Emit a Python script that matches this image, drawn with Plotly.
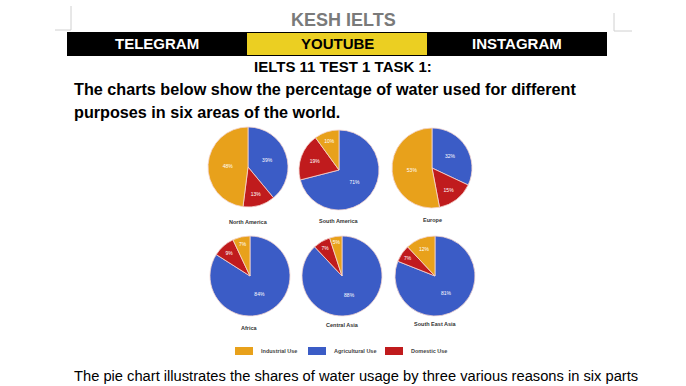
import plotly.graph_objects as go

W, H = 686, 386

regions = ["North America", "South America", "Europe", "Africa", "Central Asia", "South East Asia"]
categories = ["Agricultural Use", "Domestic Use", "Industrial Use"]
agricultural = [39, 71, 32, 84, 88, 81]
domestic = [13, 19, 15, 9, 7, 7]
industrial = [48, 10, 53, 7, 5, 12]
legend_order = ["Industrial Use", "Agricultural Use", "Domestic Use"]

colors = {"Agricultural Use": "#3B5CC6", "Domestic Use": "#C01B1D", "Industrial Use": "#E8A11B"}

# pie centres (px) and radius
centres = [(248, 167), (339, 170), (432, 168), (250, 276), (342, 276), (435, 276)]
label_y = [222, 221, 220, 328, 325, 324]
R = 40

def px(x):
    return x / W

def py(y):
    return 1 - y / H

fig = go.Figure()
for i, reg in enumerate(regions):
    cx, cy = centres[i]
    vals = [agricultural[i], domestic[i], industrial[i]]
    fig.add_trace(go.Pie(
        labels=categories, values=vals, sort=False, direction="clockwise", rotation=0,
        domain=dict(x=[px(cx - R), px(cx + R)], y=[py(cy + R), py(cy - R)]),
        marker=dict(colors=[colors[c] for c in categories], line=dict(color="#F4D6D0", width=0.8)),
        texttemplate="%{value}%", textposition="inside", insidetextorientation="horizontal",
        textfont=dict(size=5, color="white", family="Liberation Sans, Arial"),
        showlegend=False, hoverinfo="label+value", name=reg,
    ))

shapes = []
annotations = []
font = "Liberation Sans, Arial, sans-serif"

# page corner marks
shapes.append(dict(type="line", xref="paper", yref="paper", x0=px(71), x1=px(71), y0=py(6), y1=py(30), line=dict(color="#d0d0d0", width=1)))
shapes.append(dict(type="line", xref="paper", yref="paper", x0=px(55), x1=px(71), y0=py(30), y1=py(30), line=dict(color="#d0d0d0", width=1)))
shapes.append(dict(type="line", xref="paper", yref="paper", x0=px(614), x1=px(614), y0=py(13), y1=py(31), line=dict(color="#d0d0d0", width=1)))
shapes.append(dict(type="line", xref="paper", yref="paper", x0=px(614), x1=px(632), y0=py(31), y1=py(31), line=dict(color="#d0d0d0", width=1)))

# header bar
shapes.append(dict(type="rect", xref="paper", yref="paper", x0=px(67), x1=px(607), y0=py(56), y1=py(32), fillcolor="black", line=dict(width=0), layer="below"))
shapes.append(dict(type="rect", xref="paper", yref="paper", x0=px(247), x1=px(427), y0=py(55), y1=py(33), fillcolor="#EBCF22", line=dict(width=0), layer="below"))

annotations.append(dict(text="<b>KESH IELTS</b>", x=px(343), y=py(20), xref="paper", yref="paper", showarrow=False, font=dict(size=18, color="#7A7A7A", family=font), xanchor="center", yanchor="middle"))
for t, x, c in [("TELEGRAM", 157, "white"), ("YOUTUBE", 337, "black"), ("INSTAGRAM", 517, "white")]:
    annotations.append(dict(text=f"<b>{t}</b>", x=px(x), y=py(44), xref="paper", yref="paper", showarrow=False, font=dict(size=15, color=c, family=font), xanchor="center", yanchor="middle"))

annotations.append(dict(text="<b>IELTS 11 TEST 1 TASK 1:</b>", x=px(343), y=py(67), xref="paper", yref="paper", showarrow=False, font=dict(size=15, color="black", family=font), xanchor="center", yanchor="middle"))
annotations.append(dict(text="<b>The charts below show the percentage of water used for different</b>", x=px(72), y=py(89), xref="paper", yref="paper", showarrow=False, font=dict(size=16.2, color="black", family=font), xanchor="left", yanchor="middle"))
annotations.append(dict(text="<b>purposes in six areas of the world.</b>", x=px(72), y=py(112), xref="paper", yref="paper", showarrow=False, font=dict(size=16.2, color="black", family=font), xanchor="left", yanchor="middle"))

for i, reg in enumerate(regions):
    annotations.append(dict(text=f"<b>{reg}</b>", x=px(centres[i][0]), y=py(label_y[i]), xref="paper", yref="paper", showarrow=False, font=dict(size=5.5, color="#333333", family=font), xanchor="center", yanchor="middle"))

# legend
leg_x = [235, 308, 385]
for name, x in zip(legend_order, leg_x):
    shapes.append(dict(type="rect", xref="paper", yref="paper", x0=px(x), x1=px(x + 18), y0=py(355), y1=py(347), fillcolor=colors[name], line=dict(width=0)))
    annotations.append(dict(text=f"<b>{name}</b>", x=px(x + 24), y=py(351), xref="paper", yref="paper", showarrow=False, font=dict(size=5.5, color="#444444", family=font), xanchor="left", yanchor="middle"))

annotations.append(dict(text="The pie chart illustrates the shares of water usage by three various reasons in six parts", x=px(72), y=py(376), xref="paper", yref="paper", showarrow=False, font=dict(size=14.7, color="black", family=font), xanchor="left", yanchor="middle"))

fig.update_layout(
    width=W, height=H, margin=dict(l=0, r=0, t=0, b=0),
    paper_bgcolor="white", plot_bgcolor="white",
    shapes=shapes, annotations=annotations, showlegend=False,
)
fig.write_html("out.html")
